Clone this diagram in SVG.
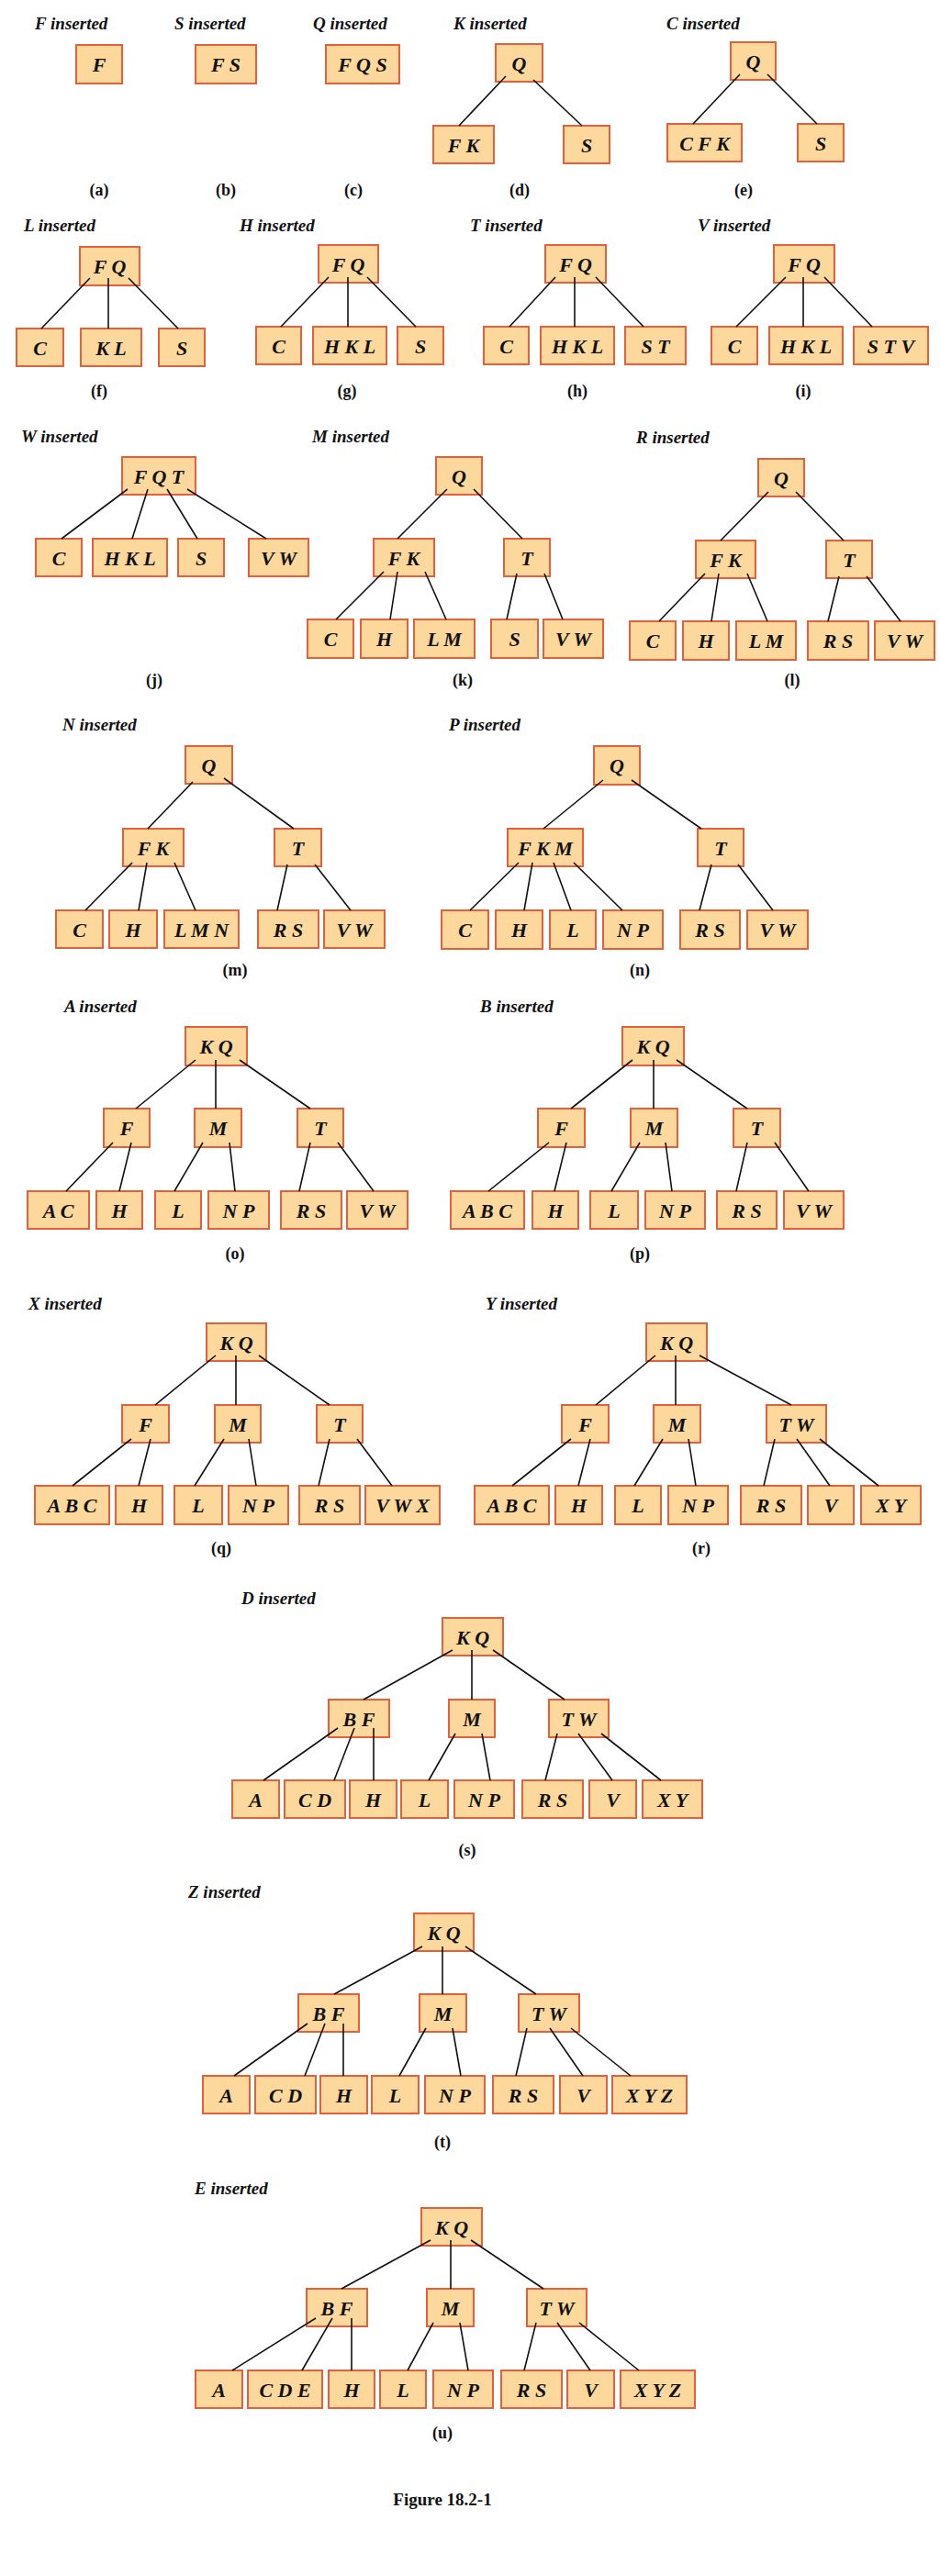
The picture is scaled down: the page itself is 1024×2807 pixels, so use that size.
<svg xmlns="http://www.w3.org/2000/svg" width="1024" height="2807" viewBox="0 0 1024 2807">
<style>
rect{fill:#fcd89c;stroke:#e2603c;stroke-width:2}
.n{font-family:"Liberation Serif",serif;font-weight:bold;font-style:italic;font-size:22px;text-anchor:middle;fill:#111}
.t{font-family:"Liberation Serif",serif;font-weight:bold;font-style:italic;font-size:19px;fill:#111}
.l{font-family:"Liberation Serif",serif;font-weight:bold;font-size:18px;text-anchor:middle;fill:#111}
.c{font-family:"Liberation Serif",serif;font-weight:bold;font-size:19px;text-anchor:middle;fill:#111}
.e{stroke:#111;stroke-width:1.6;fill:none}
</style>
<rect width="1024" height="2807" style="fill:#fff;stroke:none"/>
<g id="titles">
<text class="t" x="38" y="32">F inserted</text><text class="t" x="190" y="32">S inserted</text><text class="t" x="341" y="32">Q inserted</text><text class="t" x="494" y="32">K inserted</text><text class="t" x="726" y="32">C inserted</text>
<text class="t" x="26" y="252">L inserted</text><text class="t" x="261" y="252">H inserted</text><text class="t" x="512" y="252">T inserted</text><text class="t" x="760" y="252">V inserted</text>
<text class="t" x="23" y="482">W inserted</text><text class="t" x="340" y="482">M inserted</text><text class="t" x="693" y="483">R inserted</text>
<text class="t" x="68" y="796">N inserted</text><text class="t" x="489" y="796">P inserted</text>
<text class="t" x="70" y="1103">A inserted</text><text class="t" x="523" y="1103">B inserted</text>
<text class="t" x="31" y="1427">X inserted</text><text class="t" x="529" y="1427">Y inserted</text>
<text class="t" x="263" y="1748">D inserted</text><text class="t" x="205" y="2068">Z inserted</text><text class="t" x="212" y="2391">E inserted</text>
</g>
<g id="labels">
<text class="l" x="108" y="213">(a)</text><text class="l" x="246" y="213">(b)</text><text class="l" x="385" y="213">(c)</text><text class="l" x="566" y="213">(d)</text><text class="l" x="810" y="213">(e)</text>
<text class="l" x="108" y="432">(f)</text><text class="l" x="378" y="432">(g)</text><text class="l" x="629" y="432">(h)</text><text class="l" x="875" y="432">(i)</text>
<text class="l" x="168" y="747">(j)</text><text class="l" x="504" y="747">(k)</text><text class="l" x="863" y="747">(l)</text>
<text class="l" x="256" y="1063">(m)</text><text class="l" x="697" y="1063">(n)</text>
<text class="l" x="256" y="1372">(o)</text><text class="l" x="697" y="1372">(p)</text>
<text class="l" x="241" y="1693">(q)</text><text class="l" x="764" y="1693">(r)</text>
<text class="l" x="509" y="2022">(s)</text><text class="l" x="482" y="2340">(t)</text><text class="l" x="482" y="2657">(u)</text>
<text class="c" x="482" y="2730">Figure 18.2-1</text>
</g>
<g id="a"><rect x="83" y="49" width="50" height="42"/><text class="n" x="108" y="78">F</text></g>
<g id="b"><rect x="213" y="49" width="66" height="42"/><text class="n" x="246" y="78">F S</text></g>
<g id="c"><rect x="355" y="49" width="80" height="42"/><text class="n" x="395" y="78">F Q S</text></g>
<g id="d-root"><rect x="540" y="48" width="51" height="41"/><text class="n" x="565.5" y="77">Q</text></g>
<g id="d-FK"><rect x="472" y="137" width="66" height="41"/><text class="n" x="505" y="166">F K</text></g>
<g id="d-S"><rect x="614" y="137" width="50" height="41"/><text class="n" x="639" y="166">S</text></g>
<g id="e-root"><rect x="796" y="46" width="49" height="41"/><text class="n" x="820.5" y="75">Q</text></g>
<g id="e-CFK"><rect x="727" y="135" width="81" height="41"/><text class="n" x="767.5" y="164">C F K</text></g>
<g id="e-S"><rect x="869" y="135" width="50" height="41"/><text class="n" x="894" y="164">S</text></g>
<g id="f-root"><rect x="87" y="269" width="65" height="42"/><text class="n" x="119.5" y="298">F Q</text></g>
<g id="f-C"><rect x="18" y="358" width="51" height="41"/><text class="n" x="43.5" y="387">C</text></g>
<g id="f-KL"><rect x="88" y="358" width="66" height="41"/><text class="n" x="121" y="387">K L</text></g>
<g id="f-S"><rect x="173" y="358" width="50" height="41"/><text class="n" x="198" y="387">S</text></g>
<g id="g-root"><rect x="347" y="267" width="65" height="41"/><text class="n" x="379.5" y="296">F Q</text></g>
<g id="g-C"><rect x="279" y="356" width="49" height="41"/><text class="n" x="303.5" y="385">C</text></g>
<g id="g-HKL"><rect x="341" y="356" width="80" height="41"/><text class="n" x="381" y="385">H K L</text></g>
<g id="g-S"><rect x="433" y="356" width="50" height="41"/><text class="n" x="458" y="385">S</text></g>
<g id="h-root"><rect x="594" y="267" width="66" height="41"/><text class="n" x="627" y="296">F Q</text></g>
<g id="h-C"><rect x="527" y="356" width="49" height="41"/><text class="n" x="551.5" y="385">C</text></g>
<g id="h-HKL"><rect x="589" y="356" width="80" height="41"/><text class="n" x="629" y="385">H K L</text></g>
<g id="h-ST"><rect x="681" y="356" width="66" height="41"/><text class="n" x="714" y="385">S T</text></g>
<g id="i-root"><rect x="843" y="267" width="66" height="41"/><text class="n" x="876" y="296">F Q</text></g>
<g id="i-C"><rect x="775" y="356" width="50" height="41"/><text class="n" x="800" y="385">C</text></g>
<g id="i-HKL"><rect x="838" y="356" width="80" height="41"/><text class="n" x="878" y="385">H K L</text></g>
<g id="i-STV"><rect x="930" y="356" width="81" height="41"/><text class="n" x="970.5" y="385">S T V</text></g>
<g id="j-root"><rect x="133" y="498" width="80" height="41"/><text class="n" x="173" y="527">F Q T</text></g>
<g id="j-C"><rect x="39" y="587" width="50" height="41"/><text class="n" x="64" y="616">C</text></g>
<g id="j-HKL"><rect x="101" y="587" width="81" height="41"/><text class="n" x="141.5" y="616">H K L</text></g>
<g id="j-S"><rect x="194" y="587" width="50" height="41"/><text class="n" x="219" y="616">S</text></g>
<g id="j-VW"><rect x="271" y="587" width="65" height="41"/><text class="n" x="303.5" y="616">V W</text></g>
<g id="k-root"><rect x="475" y="498" width="50" height="41"/><text class="n" x="500" y="527">Q</text></g>
<g id="k-FK"><rect x="407" y="587" width="66" height="41"/><text class="n" x="440" y="616">F K</text></g>
<g id="k-T"><rect x="549" y="587" width="50" height="41"/><text class="n" x="574" y="616">T</text></g>
<g id="k-C"><rect x="335" y="675" width="50" height="42"/><text class="n" x="360" y="704">C</text></g>
<g id="k-H"><rect x="393" y="675" width="51" height="42"/><text class="n" x="418.5" y="704">H</text></g>
<g id="k-LM"><rect x="451" y="675" width="66" height="42"/><text class="n" x="484" y="704">L M</text></g>
<g id="k-S"><rect x="535" y="675" width="51" height="42"/><text class="n" x="560.5" y="704">S</text></g>
<g id="k-VW"><rect x="592" y="675" width="65" height="42"/><text class="n" x="624.5" y="704">V W</text></g>
<g id="l-root"><rect x="826" y="500" width="50" height="41"/><text class="n" x="851" y="529">Q</text></g>
<g id="l-FK"><rect x="758" y="589" width="65" height="41"/><text class="n" x="790.5" y="618">F K</text></g>
<g id="l-T"><rect x="900" y="589" width="50" height="41"/><text class="n" x="925" y="618">T</text></g>
<g id="l-C"><rect x="686" y="677" width="50" height="42"/><text class="n" x="711" y="706">C</text></g>
<g id="l-H"><rect x="744" y="677" width="50" height="42"/><text class="n" x="769" y="706">H</text></g>
<g id="l-LM"><rect x="802" y="677" width="65" height="42"/><text class="n" x="834.5" y="706">L M</text></g>
<g id="l-RS"><rect x="880" y="677" width="66" height="42"/><text class="n" x="913" y="706">R S</text></g>
<g id="l-VW"><rect x="953" y="677" width="65" height="42"/><text class="n" x="985.5" y="706">V W</text></g>
<g id="m-root"><rect x="202" y="813" width="51" height="41"/><text class="n" x="227.5" y="842">Q</text></g>
<g id="m-FK"><rect x="134" y="903" width="66" height="41"/><text class="n" x="167" y="932">F K</text></g>
<g id="m-T"><rect x="299" y="903" width="51" height="41"/><text class="n" x="324.5" y="932">T</text></g>
<g id="m-C"><rect x="61" y="992" width="51" height="41"/><text class="n" x="86.5" y="1021">C</text></g>
<g id="m-H"><rect x="119" y="992" width="52" height="41"/><text class="n" x="145" y="1021">H</text></g>
<g id="m-LMN"><rect x="179" y="992" width="81" height="41"/><text class="n" x="219.5" y="1021">L M N</text></g>
<g id="m-RS"><rect x="281" y="992" width="66" height="41"/><text class="n" x="314" y="1021">R S</text></g>
<g id="m-VW"><rect x="353" y="992" width="66" height="41"/><text class="n" x="386" y="1021">V W</text></g>
<g id="n-root"><rect x="647" y="813" width="50" height="42"/><text class="n" x="672" y="842">Q</text></g>
<g id="n-FKM"><rect x="553" y="903" width="82" height="41"/><text class="n" x="594" y="932">F K M</text></g>
<g id="n-T"><rect x="760" y="903" width="50" height="41"/><text class="n" x="785" y="932">T</text></g>
<g id="n-C"><rect x="481" y="992" width="51" height="42"/><text class="n" x="506.5" y="1021">C</text></g>
<g id="n-H"><rect x="540" y="992" width="51" height="42"/><text class="n" x="565.5" y="1021">H</text></g>
<g id="n-L"><rect x="599" y="992" width="50" height="42"/><text class="n" x="624" y="1021">L</text></g>
<g id="n-NP"><rect x="657" y="992" width="65" height="42"/><text class="n" x="689.5" y="1021">N P</text></g>
<g id="n-RS"><rect x="741" y="992" width="65" height="42"/><text class="n" x="773.5" y="1021">R S</text></g>
<g id="n-VW"><rect x="814" y="992" width="66" height="42"/><text class="n" x="847" y="1021">V W</text></g>
<g id="o-root"><rect x="202" y="1119" width="67" height="42"/><text class="n" x="235.5" y="1148">K Q</text></g>
<g id="o-F"><rect x="113" y="1208" width="50" height="42"/><text class="n" x="138" y="1237">F</text></g>
<g id="o-M"><rect x="212" y="1208" width="51" height="42"/><text class="n" x="237.5" y="1237">M</text></g>
<g id="o-T"><rect x="324" y="1208" width="50" height="42"/><text class="n" x="349" y="1237">T</text></g>
<g id="o-AC"><rect x="30" y="1298" width="67" height="41"/><text class="n" x="63.5" y="1327">A C</text></g>
<g id="o-H"><rect x="105" y="1298" width="50" height="41"/><text class="n" x="130" y="1327">H</text></g>
<g id="o-L"><rect x="169" y="1298" width="50" height="41"/><text class="n" x="194" y="1327">L</text></g>
<g id="o-NP"><rect x="227" y="1298" width="66" height="41"/><text class="n" x="260" y="1327">N P</text></g>
<g id="o-RS"><rect x="306" y="1298" width="66" height="41"/><text class="n" x="339" y="1327">R S</text></g>
<g id="o-VW"><rect x="378" y="1298" width="66" height="41"/><text class="n" x="411" y="1327">V W</text></g>
<g id="p-root"><rect x="678" y="1119" width="67" height="42"/><text class="n" x="711.5" y="1148">K Q</text></g>
<g id="p-F"><rect x="586" y="1208" width="51" height="42"/><text class="n" x="611.5" y="1237">F</text></g>
<g id="p-M"><rect x="687" y="1208" width="51" height="42"/><text class="n" x="712.5" y="1237">M</text></g>
<g id="p-T"><rect x="799" y="1208" width="51" height="42"/><text class="n" x="824.5" y="1237">T</text></g>
<g id="p-ABC"><rect x="491" y="1298" width="80" height="41"/><text class="n" x="531" y="1327">A B C</text></g>
<g id="p-H"><rect x="580" y="1298" width="50" height="41"/><text class="n" x="605" y="1327">H</text></g>
<g id="p-L"><rect x="643" y="1298" width="52" height="41"/><text class="n" x="669" y="1327">L</text></g>
<g id="p-NP"><rect x="703" y="1298" width="65" height="41"/><text class="n" x="735.5" y="1327">N P</text></g>
<g id="p-RS"><rect x="781" y="1298" width="65" height="41"/><text class="n" x="813.5" y="1327">R S</text></g>
<g id="p-VW"><rect x="854" y="1298" width="65" height="41"/><text class="n" x="886.5" y="1327">V W</text></g>
<g id="q-root"><rect x="225" y="1442" width="65" height="41"/><text class="n" x="257.5" y="1471">K Q</text></g>
<g id="q-F"><rect x="133" y="1531" width="51" height="41"/><text class="n" x="158.5" y="1560">F</text></g>
<g id="q-M"><rect x="234" y="1531" width="50" height="41"/><text class="n" x="259" y="1560">M</text></g>
<g id="q-T"><rect x="345" y="1531" width="50" height="41"/><text class="n" x="370" y="1560">T</text></g>
<g id="q-ABC"><rect x="38" y="1619" width="81" height="42"/><text class="n" x="78.5" y="1648">A B C</text></g>
<g id="q-H"><rect x="126" y="1619" width="51" height="42"/><text class="n" x="151.5" y="1648">H</text></g>
<g id="q-L"><rect x="190" y="1619" width="52" height="42"/><text class="n" x="216" y="1648">L</text></g>
<g id="q-NP"><rect x="249" y="1619" width="65" height="42"/><text class="n" x="281.5" y="1648">N P</text></g>
<g id="q-RS"><rect x="326" y="1619" width="66" height="42"/><text class="n" x="359" y="1648">R S</text></g>
<g id="q-VWX"><rect x="398" y="1619" width="81" height="42"/><text class="n" x="438.5" y="1648">V W X</text></g>
<g id="r-root"><rect x="704" y="1442" width="66" height="41"/><text class="n" x="737" y="1471">K Q</text></g>
<g id="r-F"><rect x="612" y="1531" width="51" height="41"/><text class="n" x="637.5" y="1560">F</text></g>
<g id="r-M"><rect x="712" y="1531" width="51" height="41"/><text class="n" x="737.5" y="1560">M</text></g>
<g id="r-TW"><rect x="835" y="1531" width="65" height="41"/><text class="n" x="867.5" y="1560">T W</text></g>
<g id="r-ABC"><rect x="517" y="1619" width="81" height="42"/><text class="n" x="557.5" y="1648">A B C</text></g>
<g id="r-H"><rect x="605" y="1619" width="51" height="42"/><text class="n" x="630.5" y="1648">H</text></g>
<g id="r-L"><rect x="670" y="1619" width="50" height="42"/><text class="n" x="695" y="1648">L</text></g>
<g id="r-NP"><rect x="728" y="1619" width="65" height="42"/><text class="n" x="760.5" y="1648">N P</text></g>
<g id="r-RS"><rect x="807" y="1619" width="66" height="42"/><text class="n" x="840" y="1648">R S</text></g>
<g id="r-V"><rect x="880" y="1619" width="50" height="42"/><text class="n" x="905" y="1648">V</text></g>
<g id="r-XY"><rect x="938" y="1619" width="65" height="42"/><text class="n" x="970.5" y="1648">X Y</text></g>
<g id="s-root"><rect x="482" y="1763" width="66" height="41"/><text class="n" x="515" y="1792">K Q</text></g>
<g id="s-BF"><rect x="358" y="1852" width="66" height="41"/><text class="n" x="391" y="1881">B F</text></g>
<g id="s-M"><rect x="489" y="1852" width="50" height="41"/><text class="n" x="514" y="1881">M</text></g>
<g id="s-TW"><rect x="598" y="1852" width="65" height="41"/><text class="n" x="630.5" y="1881">T W</text></g>
<g id="s-A"><rect x="253" y="1940" width="51" height="41"/><text class="n" x="278.5" y="1969">A</text></g>
<g id="s-CD"><rect x="310" y="1940" width="66" height="41"/><text class="n" x="343" y="1969">C D</text></g>
<g id="s-H"><rect x="381" y="1940" width="51" height="41"/><text class="n" x="406.5" y="1969">H</text></g>
<g id="s-L"><rect x="437" y="1940" width="51" height="41"/><text class="n" x="462.5" y="1969">L</text></g>
<g id="s-NP"><rect x="495" y="1940" width="65" height="41"/><text class="n" x="527.5" y="1969">N P</text></g>
<g id="s-RS"><rect x="569" y="1940" width="66" height="41"/><text class="n" x="602" y="1969">R S</text></g>
<g id="s-V"><rect x="642" y="1940" width="51" height="41"/><text class="n" x="667.5" y="1969">V</text></g>
<g id="s-XY"><rect x="700" y="1940" width="65" height="41"/><text class="n" x="732.5" y="1969">X Y</text></g>
<g id="t-root"><rect x="451" y="2085" width="65" height="41"/><text class="n" x="483.5" y="2114">K Q</text></g>
<g id="t-BF"><rect x="325" y="2173" width="66" height="41"/><text class="n" x="358" y="2202">B F</text></g>
<g id="t-M"><rect x="457" y="2173" width="51" height="41"/><text class="n" x="482.5" y="2202">M</text></g>
<g id="t-TW"><rect x="565" y="2173" width="66" height="41"/><text class="n" x="598" y="2202">T W</text></g>
<g id="t-A"><rect x="221" y="2262" width="51" height="41"/><text class="n" x="246.5" y="2291">A</text></g>
<g id="t-CD"><rect x="278" y="2262" width="66" height="41"/><text class="n" x="311" y="2291">C D</text></g>
<g id="t-H"><rect x="349" y="2262" width="51" height="41"/><text class="n" x="374.5" y="2291">H</text></g>
<g id="t-L"><rect x="405" y="2262" width="51" height="41"/><text class="n" x="430.5" y="2291">L</text></g>
<g id="t-NP"><rect x="463" y="2262" width="65" height="41"/><text class="n" x="495.5" y="2291">N P</text></g>
<g id="t-RS"><rect x="537" y="2262" width="66" height="41"/><text class="n" x="570" y="2291">R S</text></g>
<g id="t-V"><rect x="610" y="2262" width="51" height="41"/><text class="n" x="635.5" y="2291">V</text></g>
<g id="t-XYZ"><rect x="667" y="2262" width="81" height="41"/><text class="n" x="707.5" y="2291">X Y Z</text></g>
<g id="u-root"><rect x="459" y="2406" width="66" height="41"/><text class="n" x="492" y="2435">K Q</text></g>
<g id="u-BF"><rect x="334" y="2494" width="66" height="41"/><text class="n" x="367" y="2523">B F</text></g>
<g id="u-M"><rect x="465" y="2494" width="51" height="41"/><text class="n" x="490.5" y="2523">M</text></g>
<g id="u-TW"><rect x="574" y="2494" width="65" height="41"/><text class="n" x="606.5" y="2523">T W</text></g>
<g id="u-A"><rect x="213" y="2583" width="51" height="41"/><text class="n" x="238.5" y="2612">A</text></g>
<g id="u-CDE"><rect x="270" y="2583" width="81" height="41"/><text class="n" x="310.5" y="2612">C D E</text></g>
<g id="u-H"><rect x="358" y="2583" width="50" height="41"/><text class="n" x="383" y="2612">H</text></g>
<g id="u-L"><rect x="414" y="2583" width="50" height="41"/><text class="n" x="439" y="2612">L</text></g>
<g id="u-NP"><rect x="472" y="2583" width="65" height="41"/><text class="n" x="504.5" y="2612">N P</text></g>
<g id="u-RS"><rect x="546" y="2583" width="66" height="41"/><text class="n" x="579" y="2612">R S</text></g>
<g id="u-V"><rect x="618" y="2583" width="51" height="41"/><text class="n" x="643.5" y="2612">V</text></g>
<g id="u-XYZ"><rect x="676" y="2583" width="81" height="41"/><text class="n" x="716.5" y="2612">X Y Z</text></g>
<g id="connectors" class="e">
<path class="e" d="M551 83L500 137M581 87L634 137"/>
<path class="e" d="M806 81L755 135M836 81L890 135"/>
<path class="e" d="M98 303L45 358M118 303L118 358M140 303L194 358"/>
<path class="e" d="M358 302L306 356M379 302L379 356M400 302L453 356"/>
<path class="e" d="M605 302L555 356M626 302L626 356M649 302L701 356"/>
<path class="e" d="M856 302L802 356M875 302L875 356M898 302L950 356"/>
<path class="e" d="M139 533L67 587M161 533L144 587M182 533L215 587M204 533L290 587"/>
<path class="e" d="M487 533L433 587M516 533L569 587M418 623L366 675M433 623L425 675M463 623L486 675M563 625L552 675M593 625L613 675"/>
<path class="e" d="M837 536L785 589M867 536L919 589M768 625L718 677M783 625L775 677M814 625L836 677M914 628L902 677M944 628L981 677"/>
<path class="e" d="M210 852L161 903M244 848L320 903M144 940L93 992M160 940L151 992M190 940L213 992M313 942L302 992M343 942L382 992"/>
<path class="e" d="M657 850L592 903M688 850L764 903M565 940L512 992M580 940L571 992M603 940L622 992M625 940L678 992M775 942L762 992M804 942L842 992"/>
<path class="e" d="M213 1155L148 1208M235 1155L235 1208M261 1155L338 1208M123 1245L72 1298M143 1245L130 1298M221 1245L190 1298M250 1245L256 1298M338 1245L326 1298M368 1245L407 1298"/>
<path class="e" d="M689 1155L622 1208M712 1155L712 1208M737 1155L814 1208M598 1245L532 1298M617 1245L604 1298M697 1245L666 1298M725 1245L732 1298M814 1245L802 1298M844 1245L881 1298"/>
<path class="e" d="M235 1477L169 1531M257 1477L257 1531M282 1477L359 1531M143 1568L79 1619M164 1568L151 1619M244 1568L212 1619M271 1568L279 1619M359 1568L347 1619M389 1568L427 1619"/>
<path class="e" d="M714 1477L649 1531M736 1477L736 1531M762 1477L862 1531M622 1568L558 1619M643 1568L630 1619M722 1568L691 1619M750 1568L758 1619M844 1568L832 1619M868 1568L904 1619M893 1568L957 1619"/>
<path class="e" d="M493 1798L396 1852M514 1798L514 1852M537 1798L615 1852M368 1883L287 1940M386 1883L364 1940M407 1883L407 1940M496 1889L467 1940M525 1889L534 1940M607 1889L594 1940M630 1889L667 1940M655 1889L720 1940"/>
<path class="e" d="M460 2121L364 2173M482 2121L482 2173M507 2121L584 2173M335 2205L255 2262M354 2205L332 2262M374 2205L374 2262M464 2210L435 2262M493 2210L502 2262M574 2210L562 2262M599 2210L635 2262M622 2210L687 2262"/>
<path class="e" d="M469 2441L372 2494M491 2441L491 2494M513 2441L592 2494M344 2526L253 2583M362 2526L329 2583M383 2526L383 2583M472 2531L444 2583M501 2531L510 2583M584 2531L571 2583M607 2531L643 2583M631 2531L696 2583"/>
</g>
</svg>
